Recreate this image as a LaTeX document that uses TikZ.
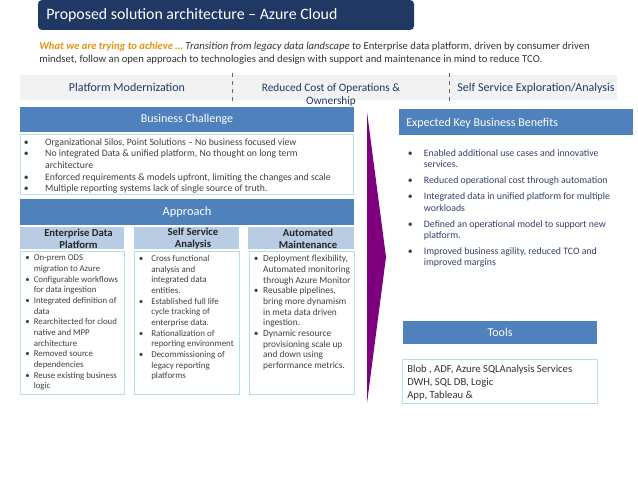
\documentclass[tikz,border=0pt]{standalone}
\usepackage{fontspec}
\setmainfont{Carlito}
\definecolor{navyhdr}{HTML}{1F3864}
\definecolor{bluehdr}{HTML}{4F81BD}
\definecolor{bluesub}{HTML}{B8CCE4}
\definecolor{boxline}{HTML}{B7DEE8}
\definecolor{bandgrey}{HTML}{F2F2F2}
\definecolor{bodytext}{HTML}{404040}
\definecolor{benefit}{HTML}{333F6B}
\definecolor{goal}{HTML}{E3930F}
\definecolor{arrowpurple}{HTML}{7F007F}
\newcommand{\bl}[1]{\makebox[#1][l]{\textbullet}}
\newcommand{\low}[1]{\raisebox{-1pt}{#1}}
\tikzset{
  hdr/.style={fill=bluehdr, text=white, inner sep=0pt, align=center, font=\fontsize{9}{12}\selectfont},
  subhdr/.style={fill=bluesub, inner sep=0pt},
  subtxt/.style={inner sep=0pt, align=center, text=black!85, font=\bfseries\fontsize{8}{9.3}\selectfont},
  panel/.style={draw=boxline, line width=.6pt, fill=white, inner sep=0pt},
  sublist/.style={anchor=north west, inner sep=0pt, align=left, text=bodytext, font=\fontsize{6.7}{8}\selectfont},
  bandtxt/.style={inner sep=0pt, align=center, text=navyhdr, font=\fontsize{9}{10}\selectfont},
  banddash/.style={dashed, line width=.5pt, black!60}
}
\begin{document}
\begin{tikzpicture}[x=.75pt,y=-.75pt]
\useasboundingbox (0,0) rectangle (638,478);
\node[fill=navyhdr, rounded corners=3pt, minimum width=282pt, minimum height=22.5pt, inner sep=0pt] (titlebar) at (226,15){};
\node[anchor=west, inner sep=0pt, text=white, font=\fontsize{11.9}{14}\selectfont] (titletxt) at (46,15){Proposed solution architecture – Azure Cloud};
\node[anchor=north west, inner sep=0pt, align=left, text=black!80, font=\fontsize{8}{9.8}\selectfont] (introtxt) at (39,41.5){{\color{goal}\bfseries\itshape What we are trying to achieve …} \textit{Transition from legacy data landscape to} Enterprise data platform, driven by consumer driven\\mindset, follow an open approach to technologies and design with support and maintenance in mind to reduce TCO.};
\node[fill=bandgrey, minimum width=447.75pt, minimum height=18.75pt, inner sep=0pt] (band) at (318.5,87.5){};
\coordinate (dash0a) at (232,73);
\coordinate (dash0b) at (232,103);
\coordinate (dash1a) at (449,73);
\coordinate (dash1b) at (449,103);
\draw[banddash] (dash0a) -- (dash0b);
\draw[banddash] (dash1a) -- (dash1b);
\node[bandtxt] (band0) at (127,87){Platform Modernization};
\node[bandtxt] (band1) at (536,88){Self Service Exploration/Analysis};
\node[hdr, minimum width=250.5pt, minimum height=19pt] (hdr0) at (187,119.5){\low{Business Challenge}};
\node[bandtxt, font=\fontsize{8.5}{9.6}\selectfont] (band2) at (331,95){Reduced Cost of Operations \&\\Ownership};
\node[panel, minimum width=249.75pt, minimum height=45pt] (box0) at (186.5,164){};
\node[sublist, font=\fontsize{7.3}{8.75}\selectfont] (list0) at (23.5,138){\bl{16.1pt}Organizational Silos, Point Solutions – No business focused view\\\bl{16.1pt}No integrated Data \& unified platform, No thought on long term\\\hspace*{16.1pt}architecture\\\bl{16.1pt}Enforced requirements \& models upfront, limiting the changes and scale\\\bl{16.1pt}Multiple reporting systems lack of single source of truth.};
\node[hdr, font=\fontsize{9.3}{12}\selectfont, minimum width=250.5pt, minimum height=19.5pt] (hdr1) at (187,212){\low{Approach}};
\node[subhdr, minimum width=78pt, minimum height=16.5pt] (sub0) at (72,238){};
\node[subhdr, minimum width=78.75pt, minimum height=16.5pt] (sub1) at (186.5,238){};
\node[subhdr, minimum width=79.5pt, minimum height=16.5pt] (sub2) at (301,238){};
\node[subtxt] (sub0txt) at (78.5,238.5){Enterprise Data\\Platform};
\node[subtxt] (sub1txt) at (193,238.5){Self Service\\Analysis};
\node[subtxt] (sub2txt) at (308,238.5){Automated\\Maintenance};
\node[panel, minimum width=78pt, minimum height=107.25pt] (box1) at (72,322.5){};
\node[panel, minimum width=78.75pt, minimum height=107.25pt] (box2) at (186.5,322.5){};
\node[panel, minimum width=78.75pt, minimum height=107.25pt] (box3) at (301.5,322.5){};
\node[sublist, font=\fontsize{6.6}{8}\selectfont] (list1) at (25,255){\bl{6.4pt}On-prem ODS\\\hspace*{6.4pt}migration to Azure\\\bl{6.4pt}Configurable workflows\\\hspace*{6.4pt}for data ingestion\\\bl{6.4pt}Integrated definition of\\\hspace*{6.4pt}data\\\bl{6.4pt}Rearchitected for cloud\\\hspace*{6.4pt}native and MPP\\\hspace*{6.4pt}architecture\\\bl{6.4pt}Removed source\\\hspace*{6.4pt}dependencies\\\bl{6.4pt}Reuse existing business\\\hspace*{6.4pt}logic};
\node[sublist] (list2) at (138.5,255){\bl{9.4pt}Cross functional\\\hspace*{9.4pt}analysis and\\\hspace*{9.4pt}integrated data\\\hspace*{9.4pt}entities.\\\bl{9.4pt}Established full life\\\hspace*{9.4pt}cycle tracking of\\\hspace*{9.4pt}enterprise data.\\\bl{9.4pt}Rationalization of\\\hspace*{9.4pt}reporting environment\\\bl{9.4pt}Decommissioning of\\\hspace*{9.4pt}legacy reporting\\\hspace*{9.4pt}platforms};
\node[sublist, font=\fontsize{7}{8}\selectfont] (list3) at (253.5,255){\bl{7.1pt}Deployment flexibility,\\\hspace*{7.1pt}Automated monitoring\\\hspace*{7.1pt}through Azure Monitor\\\bl{7.1pt}Reusable pipelines,\\\hspace*{7.1pt}bring more dynamism\\\hspace*{7.1pt}in meta data driven\\\hspace*{7.1pt}ingestion.\\\bl{7.1pt}Dynamic resource\\\hspace*{7.1pt}provisioning scale up\\\hspace*{7.1pt}and down using\\\hspace*{7.1pt}performance metrics.};
\fill[arrowpurple] (367,112) -- (386,257) -- (367,403) -- cycle;
\node[fill=bluehdr, minimum width=175.5pt, minimum height=19.5pt, inner sep=0pt] (hdr2) at (516,122){};
\node[anchor=west, inner sep=0pt, text=white, font=\fontsize{9}{12}\selectfont] (hdr2txt) at (406,123.5){Expected Key Business Benefits};
\node[sublist, text=benefit, font=\fontsize{7.36}{8.6}\selectfont] (list4) at (407.5,149){\bl{12.1pt}Enabled additional use cases and innovative\\\hspace*{12.1pt}services.\\[3.4pt]\bl{12.1pt}Reduced operational cost through automation\\[3.4pt]\bl{12.1pt}Integrated data in unified platform for multiple\\\hspace*{12.1pt}workloads\\[3.4pt]\bl{12.1pt}Defined an operational model to support new\\\hspace*{12.1pt}platform.\\[3.4pt]\bl{12.1pt}Improved business agility, reduced TCO and\\\hspace*{12.1pt}improved margins};
\node[hdr, minimum width=145.5pt, minimum height=17.25pt] (hdr3) at (500,332.5){\low{Tools}};
\node[panel, minimum width=146.25pt, minimum height=33pt] (box4) at (499.5,381){};
\node[sublist, text=black!80, font=\fontsize{8}{9.5}\selectfont] (list5) at (407,365){Blob , ADF, Azure SQLAnalysis Services\\DWH, SQL DB, Logic\\App, Tableau \&};
\end{tikzpicture}
\end{document}
